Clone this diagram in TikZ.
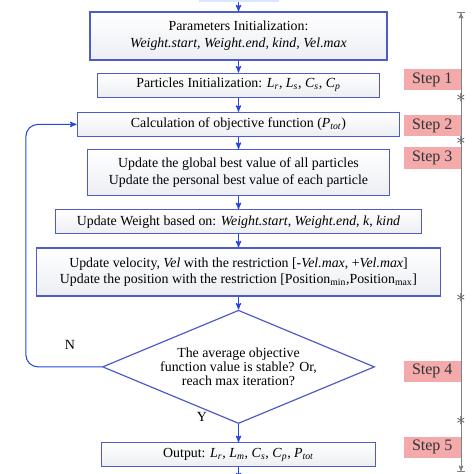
\documentclass[tikz,border=0pt]{standalone}
\usepackage{fontspec}
\setmainfont{Liberation Serif}
\usetikzlibrary{arrows,positioning,calc,shapes.geometric}

\definecolor{boxblue}{RGB}{78,92,200}
\definecolor{arrowblue}{RGB}{40,70,220}
\definecolor{steppink}{RGB}{244,170,170}
\definecolor{boxgray}{RGB}{236,238,243}
\definecolor{startblue}{RGB}{218,230,250}

\newcommand{\pvar}[2]{\textit{#1}\textsubscript{\textit{#2}}}

\begin{document}
\begin{tikzpicture}[>=stealth', x=0.75pt, y=0.75pt,
procbox/.style={rectangle, draw=boxblue, line width=0.9pt, top color=white, bottom color=boxgray, align=center, inner sep=2pt, minimum height=18pt, font=\fontsize{10.4}{12.5}\selectfont},
startbox/.style={rectangle, fill=startblue, minimum width=60pt, minimum height=15pt},
endbox/.style={rectangle, rounded corners=5pt, draw=boxblue, line width=0.9pt, fill=white, minimum width=54pt, minimum height=15pt},
decision/.style={diamond, draw=boxblue, line width=0.9pt, fill=white, aspect=2.4, inner sep=0pt, minimum width=204pt, minimum height=85pt, align=center, font=\fontsize{10.4}{10.5}\selectfont},
stepbox/.style={fill=steppink, minimum width=42.75pt, minimum height=15.75pt, inner sep=0pt, font=\fontsize{12}{13}\selectfont, text=black!80},
flow/.style={->, draw=arrowblue, line width=0.8pt},
sideline/.style={draw=gray, line width=0.6pt},
starmark/.style={inner sep=0pt, text=gray!60!black, font=\Large},
]
\useasboundingbox (0,0) rectangle (474,-474);

\node[procbox, minimum width=222.75pt, minimum height=36pt] (params) at (238.5,-36) {Parameters Initialization:\\ \textit{Weight.start, Weight.end, kind, Vel.max}};
\node[startbox, above=6.75pt of params] (start) {};
\node[procbox, minimum width=212pt, below=9pt of params] (partinit) {Particles Initialization: \pvar{L}{r}, \pvar{L}{s}, \pvar{C}{s}, \pvar{C}{p}};
\node[procbox, minimum width=242pt, below=10.5pt of partinit] (objfun) {Calculation of objective function (\pvar{P}{tot})};
\node[procbox, minimum width=227pt, minimum height=34.5pt, below=9pt of objfun] (bestval) {Update the global best value of all particles\\ Update the personal best value of each particle};
\node[procbox, minimum width=275pt, below=9.75pt of bestval] (weight) {Update Weight based on: \textit{Weight.start}, \textit{Weight.end}, \textit{k}, \textit{kind}};
\node[procbox, minimum width=303pt, minimum height=36pt, below=9.75pt of weight] (velpos) {Update velocity, \textit{Vel} with the restriction [-\textit{Vel.max}, +\textit{Vel.max}]\\ Update the position with the restriction [Position\textsubscript{min},Position\textsubscript{max}]};
\node[decision, below=9.75pt of velpos] (stable) {The average objective\\ function value is stable? Or,\\ reach max iteration?};
\node[procbox, minimum width=205.5pt, below=13.5pt of stable] (output) {Output: \pvar{L}{r}, \pvar{L}{m}, \pvar{C}{s}, \pvar{C}{p}, \pvar{P}{tot}};
\node[endbox, below=9pt of output] (finish) {};

\node[font=\fontsize{10.5}{11}\selectfont] (nlabel) at (70,-345) {N};
\node[font=\fontsize{10.5}{11}\selectfont] (ylabel) at (202,-417) {Y};

\draw[flow] (start) -- (params);
\draw[flow] (params) -- (partinit);
\draw[flow] (partinit) -- (objfun);
\draw[flow] (objfun) -- (bestval);
\draw[flow] (bestval) -- (weight);
\draw[flow] (weight) -- (velpos);
\draw[flow] (velpos) -- (stable);
\draw[flow] (stable) -- (output);
\draw[flow] (output) -- (finish);
% back to the objective function
\draw[flow, rounded corners=9pt] (stable.west) -- ++(-76,0) |- (objfun.west);

% steps on the right
\node[stepbox, anchor=east] (step1) at (461,-80) {Step 1};
\node[stepbox, anchor=east] (step2) at (461,-126) {Step 2};
\node[stepbox, anchor=east] (step3) at (461,-158) {Step 3};
\node[stepbox, anchor=east] (step4) at (461,-371) {Step 4};
\node[stepbox, anchor=east] (step5) at (461,-447) {Step 5};

\coordinate (sidetop) at (461,-12);
\coordinate (sidebot) at (461,-472);
\draw[sideline, |<->|] (sidetop) -- (sidebot);
\foreach \y in {98,141,298,421}
  \node[starmark] at (461,-\y) {$\ast$};

\end{tikzpicture}
\end{document}
